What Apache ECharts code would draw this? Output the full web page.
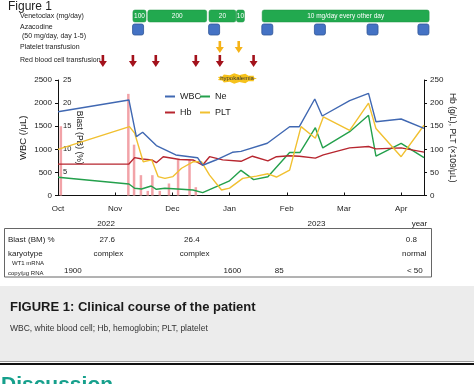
<!DOCTYPE html>
<html><head><meta charset="utf-8">
<script src="https://cdn.jsdelivr.net/npm/echarts@6/dist/echarts.min.js"></script>
<style>html,body{margin:0;padding:0;background:#fff}#c{width:474px;height:384px}</style>
</head><body><div id="c"></div>
<script>
// ---------- DATA (x = months since 1 Oct 2022) ----------
const months = ['Oct','Nov','Dec','Jan','Feb','Mar','Apr'];
const wbc = [[0,1814],[1.24,2067],[1.37,1273],[1.48,1370],[1.72,1080],[2.06,877],[2.44,818],[2.53,655],[2.76,768],[3.05,935],[3.2,955],[3.66,1130],[4.05,1489],[4.22,1489],[4.49,2089],[4.62,1721],[5.10,2052],[5.43,2212],[5.56,1597],[6.0,1656],[6.4,1455]];
const ne  = [[0,394],[1.24,249],[1.34,156],[1.46,141],[1.63,206],[1.72,134],[1.87,156],[2.16,134],[2.36,119],[2.53,61],[2.99,310],[3.2,545],[3.42,343],[3.67,407],[4.05,930],[4.23,930],[4.5,1468],[4.63,1030],[5.1,1381],[5.43,1735],[5.56,850],[6.0,1130],[6.4,820]];
const hb  = [[0,68],[1.24,68],[1.34,82],[1.47,79],[1.64,77],[1.72,71],[1.84,84],[2.13,78],[2.36,77],[2.53,66],[2.65,84],[2.88,77],[3.2,74],[3.4,85],[3.67,75],[3.82,84],[4.05,86],[4.22,85],[4.5,81],[4.64,88],[5.1,103],[5.43,106],[5.56,101],[6.0,103],[6.4,94]];
const plt = [[0,100],[1.25,149],[1.34,135],[1.49,73],[1.64,77],[1.75,41],[1.87,37],[2.01,41],[2.16,59],[2.36,73],[2.51,73],[2.65,44],[2.86,12],[3.0,16],[3.23,37],[3.47,42],[3.67,47],[3.82,40],[4.05,55],[4.25,149],[4.5,124],[4.64,170],[5.1,141],[5.43,200],[5.56,145],[6.0,84],[6.4,152]];
const blastPB = [[0.05,15],[1.23,22],[1.33,11],[1.45,4.4],[1.57,1],[1.65,4.4],[1.78,1],[1.94,2.6],[2.1,7.7],[2.3,7.8],[2.41,1.8]];

const venetoclax = [[1.31,1.54,'100'],[1.57,2.60,'200'],[2.64,3.11,'20'],[3.12,3.26,'10'],[3.57,6.49,'10 mg/day every other day']];
const azacitidine = [1.40,2.73,3.66,4.58,5.50,6.39];
const plateletTx = [2.83,3.16];
const rbcTx = [0.785,1.31,1.71,2.41,2.83,3.42];
const hypokalemia = [[3.13,'hypokalemia']];

const yearLabels = [[0.84,'2022'],[4.52,'2023'],[6.32,'year']];
const blastBM = [[0.86,'27.6'],[2.34,'26.4'],[6.18,'0.8']];
const karyotype = [[0.88,'complex'],[2.39,'complex'],[6.23,'normal']];
const wt1 = [[0.26,'1900'],[3.05,'1600'],[3.87,'85'],[6.24,'< 50']];

const wbcTicks = {min:0,max:2500,interval:500};
const rightTicks = {min:0,max:250,interval:50};
const blastTicks = {min:0,max:25,interval:5};

// ---------- LAYOUT ----------
const FONT = '"Liberation Sans", Arial, sans-serif';
const X_MAX = 6.4;
const ROW = {ven:16, aza:29.5, plt:41, rbc:55, hypo:78.5};
const TROW = {year:224, bm:240, karyo:254, wt1:271};

const chart = echarts.init(document.getElementById('c'), null, {renderer:'canvas', width:474, height:384});

const tableCells = [];
yearLabels.forEach(d=>tableCells.push({m:d[0], t:d[1], row:'year'}));
blastBM.forEach(d=>tableCells.push({m:d[0], t:d[1], row:'bm'}));
karyotype.forEach(d=>tableCells.push({m:d[0], t:d[1], row:'karyo'}));
wt1.forEach(d=>tableCells.push({m:d[0], t:d[1], row:'wt1'}));

function arrow(cx, y0, color){
  return {type:'polygon', shape:{points:[[cx-1.3,y0],[cx+1.3,y0],[cx+1.3,y0+6],[cx+4,y0+6],[cx,y0+12],[cx-4,y0+6],[cx-1.3,y0+6]]}, style:{fill:color}};
}

const lineBase = {type:'line', xAxisIndex:0, symbol:'none', smooth:false, z:5};
const plain = v=>String(v);

chart.setOption({
  animation:false,
  backgroundColor:'#fff',
  textStyle:{fontFamily:FONT},
  grid:[
    {left:58, right:50, top:80, bottom:188.5, outerBoundsMode:'none'},
    {left:58, right:50, top:0, height:80, outerBoundsMode:'none'}
  ],
  legend:[
    {data:['WBC','Hb'], orient:'vertical', left:160, top:86, icon:'rect', itemWidth:10, itemHeight:2, itemGap:5,
     textStyle:{fontSize:9, color:'#222', fontFamily:FONT, lineHeight:11}},
    {data:['Ne','PLT'], orient:'vertical', left:195, top:86, icon:'rect', itemWidth:10, itemHeight:2, itemGap:5,
     textStyle:{fontSize:9, color:'#222', fontFamily:FONT, lineHeight:11}}
  ],
  xAxis:[
    {gridIndex:0, type:'value', min:0, max:X_MAX, interval:1,
     axisLine:{show:true, lineStyle:{color:'#111', width:1}},
     axisTick:{show:true, inside:true, length:3, lineStyle:{color:'#111'}},
     splitLine:{show:false},
     axisLabel:{margin:9, fontSize:8, color:'#222', fontFamily:FONT,
       formatter:v=>Number.isInteger(v)&&months[v]?months[v]:''}},
    {gridIndex:1, type:'value', min:0, max:X_MAX, show:false}
  ],
  yAxis:[
    {gridIndex:0, type:'value', position:'left', ...wbcTicks,
     name:'WBC (/μL)', nameLocation:'middle', nameGap:30, nameMoveOverlap:false,
     nameTextStyle:{fontSize:9.5, color:'#222', fontFamily:FONT},
     axisLine:{show:true, lineStyle:{color:'#111'}},
     axisTick:{show:true, length:3, lineStyle:{color:'#111'}},
     splitLine:{show:false},
     axisLabel:{margin:6, fontSize:8, color:'#222', fontFamily:FONT, formatter:plain}},
    {gridIndex:0, type:'value', position:'right', ...rightTicks,
     name:'Hb (g/L), PLT (×109/μL)', nameLocation:'middle', nameGap:24, nameRotate:-90, nameMoveOverlap:false,
     nameTextStyle:{fontSize:8.5, color:'#222', fontFamily:FONT},
     axisLine:{show:true, lineStyle:{color:'#111'}},
     axisTick:{show:true, length:3, lineStyle:{color:'#111'}},
     splitLine:{show:false},
     axisLabel:{margin:6, fontSize:8, color:'#222', fontFamily:FONT, formatter:plain}},
    {gridIndex:0, type:'value', position:'left', ...blastTicks,
     name:'Blast (PB) (%)', nameLocation:'middle', nameGap:-26, nameRotate:-90, nameMoveOverlap:false,
     nameTextStyle:{fontSize:8.5, color:'#222', fontFamily:FONT},
     axisLine:{show:false}, axisTick:{show:false}, splitLine:{show:false},
     axisLabel:{inside:true, margin:5, fontSize:7.5, color:'#222', fontFamily:FONT,
       formatter:v=>v===0?'':String(v)}},
    {gridIndex:1, type:'value', min:0, max:80, inverse:true, show:false}
  ],
  series:[
    {type:'bar', name:'Blast PB', xAxisIndex:0, yAxisIndex:2, data:blastPB, barWidth:2.5,
     itemStyle:{color:'#f2a3a8'}, z:2},
    {...lineBase, name:'Ne', yAxisIndex:0, data:ne, color:'#24a04c', lineStyle:{color:'#24a04c', width:1.4}},
    {...lineBase, name:'Hb', yAxisIndex:1, data:hb, color:'#b7262f', lineStyle:{color:'#b7262f', width:1.4}},
    {...lineBase, name:'PLT', yAxisIndex:1, data:plt, color:'#f1c030', lineStyle:{color:'#f1c030', width:1.4}},
    {...lineBase, name:'WBC', yAxisIndex:0, data:wbc, color:'#4068b2', lineStyle:{color:'#4068b2', width:1.4}},
    // venetoclax bars
    {type:'custom', xAxisIndex:1, yAxisIndex:3, clip:false, z:6,
     data:venetoclax.map(d=>[d[0], d[1], ROW.ven]), encode:{x:[0,1], y:2},
     renderItem:(params, api)=>{
       const d = venetoclax[params.dataIndex];
       const p0 = api.coord([d[0], ROW.ven]), p1 = api.coord([d[1], ROW.ven]);
       return {type:'group', children:[
         {type:'rect', shape:{x:p0[0], y:p0[1]-6, width:p1[0]-p0[0], height:12, r:2}, style:{fill:'#22a94f', stroke:'#1c9243', lineWidth:0.5}},
         {type:'text', style:{text:d[2], x:(p0[0]+p1[0])/2, y:p0[1], align:'center', verticalAlign:'middle', fill:'#fff', font:'6.5px '+FONT}}
       ]};
     }},
    // azacitidine squares
    {type:'custom', xAxisIndex:1, yAxisIndex:3, clip:false, z:6,
     data:azacitidine.map(v=>[v, ROW.aza]), encode:{x:0, y:1},
     renderItem:(params, api)=>{
       const p = api.coord([azacitidine[params.dataIndex], ROW.aza]);
       return {type:'rect', shape:{x:p[0]-5.5, y:p[1]-5.5, width:11, height:11, r:2}, style:{fill:'#4472c4', stroke:'#2f5597', lineWidth:0.8}};
     }},
    // platelet transfusion arrows
    {type:'custom', xAxisIndex:1, yAxisIndex:3, clip:false, z:6,
     data:plateletTx.map(v=>[v, ROW.plt]), encode:{x:0, y:1},
     renderItem:(params, api)=>{
       const p = api.coord([plateletTx[params.dataIndex], ROW.plt]);
       return arrow(p[0], p[1], '#f5b318');
     }},
    // RBC transfusion arrows
    {type:'custom', xAxisIndex:1, yAxisIndex:3, clip:false, z:6,
     data:rbcTx.map(v=>[v, ROW.rbc]), encode:{x:0, y:1},
     renderItem:(params, api)=>{
       const p = api.coord([rbcTx[params.dataIndex], ROW.rbc]);
       return arrow(p[0], p[1], '#a3121c');
     }},
    // hypokalemia burst
    {type:'custom', xAxisIndex:1, yAxisIndex:3, clip:false, z:7,
     data:hypokalemia.map(d=>[d[0], ROW.hypo]), encode:{x:0, y:1},
     renderItem:(params, api)=>{
       const d = hypokalemia[params.dataIndex];
       const p = api.coord([d[0], ROW.hypo]);
       const pts = [];
       const N = 22;
       for (let i=0;i<N;i++){
         const a = i/N*Math.PI*2;
         const o = i%2===0;
         const rx = o?20:17.5, ry = o?5.2:3.6;
         pts.push([p[0]+rx*Math.cos(a), p[1]+ry*Math.sin(a)]);
       }
       return {type:'group', children:[
         {type:'polygon', shape:{points:pts}, style:{fill:'#f6c21c'}},
         {type:'text', style:{text:d[1], x:p[0], y:p[1], align:'center', verticalAlign:'middle', fill:'#333', font:'6px '+FONT}}
       ]};
     }},
    // table texts
    {type:'custom', xAxisIndex:0, yAxisIndex:0, clip:false, z:6,
     data:tableCells.map(c=>[c.m, 0]), encode:{x:0, y:1},
     renderItem:(params, api)=>{
       const c = tableCells[params.dataIndex];
       const p = api.coord([c.m, 0]);
       return {type:'text', style:{text:c.t, x:p[0], y:TROW[c.row], align:'center', verticalAlign:'middle', fill:'#222', font:'8px '+FONT}};
     }}
  ],
  graphic:[
    {type:'text', left:8, top:1, style:{text:'Figure 1', font:'12px '+FONT, fill:'#222'}},
    {type:'text', x:20, y:16, style:{text:'Venetoclax (mg/day)', font:'7px '+FONT, fill:'#222', verticalAlign:'middle'}},
    {type:'text', x:20, y:27, style:{text:'Azacodine', font:'7px '+FONT, fill:'#222', verticalAlign:'middle'}},
    {type:'text', x:22, y:36, style:{text:'(50 mg/day, day 1-5)', font:'7px '+FONT, fill:'#222', verticalAlign:'middle'}},
    {type:'text', x:20, y:47, style:{text:'Platelet transfusion', font:'7px '+FONT, fill:'#222', verticalAlign:'middle'}},
    {type:'text', x:20, y:60, style:{text:'Red blood cell transfusion', font:'7px '+FONT, fill:'#222', verticalAlign:'middle'}},
    {type:'rect', shape:{x:4.5, y:228.5, width:427, height:48.5}, style:{fill:'none', stroke:'#666', lineWidth:1}},
    {type:'text', x:8, y:240, style:{text:'Blast (BM) %', font:'8px '+FONT, fill:'#222', verticalAlign:'middle'}},
    {type:'text', x:8, y:254, style:{text:'karyotype', font:'8px '+FONT, fill:'#222', verticalAlign:'middle'}},
    {type:'text', x:12, y:263.5, style:{text:'WT1 mRNA', font:'6px '+FONT, fill:'#222', verticalAlign:'middle'}},
    {type:'text', x:8, y:273, style:{text:'copy/μg RNA', font:'6px '+FONT, fill:'#222', verticalAlign:'middle'}},
    {type:'rect', shape:{x:0, y:286, width:474, height:75}, style:{fill:'#ececec'}, z:-10},
    {type:'line', shape:{x1:0, y1:361.5, x2:474, y2:361.5}, style:{stroke:'#9a9a9a', lineWidth:1}},
    {type:'line', shape:{x1:0, y1:364, x2:474, y2:364}, style:{stroke:'#111', lineWidth:2}},
    {type:'text', x:10, y:307, style:{text:'FIGURE 1: Clinical course of the patient', font:'bold 13px '+FONT, fill:'#1a1a1a', verticalAlign:'middle'}},
    {type:'text', x:10, y:329, style:{text:'WBC, white blood cell; Hb, hemoglobin; PLT, platelet', font:'8.5px '+FONT, fill:'#333', verticalAlign:'middle'}},
    {type:'text', x:1, y:375, style:{text:'Discussion', font:'bold 21px '+FONT, fill:'#16a08c', verticalAlign:'top'}}
  ]
});
</script>
</body></html>
